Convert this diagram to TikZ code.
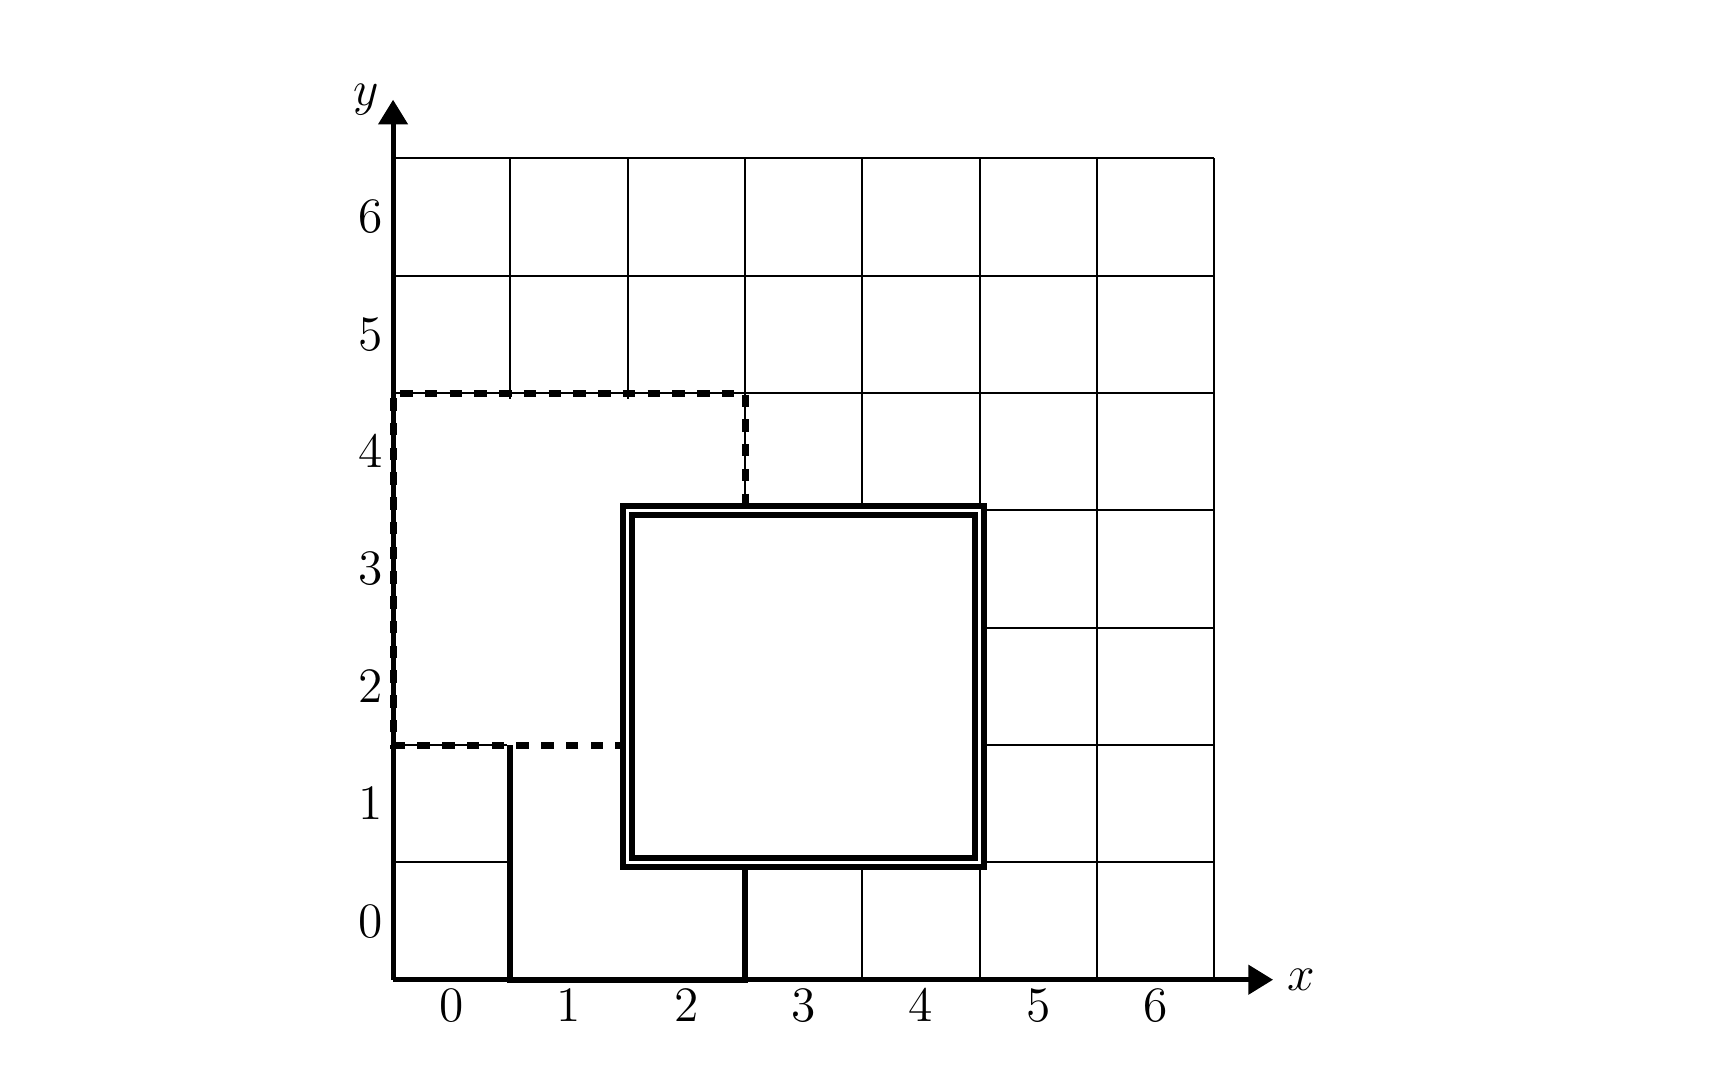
\documentclass[tikz,border=0pt]{standalone}
\usepackage{amsmath}
\usepackage{amssymb}
\usetikzlibrary{arrows.meta}

\begin{document}
\begin{tikzpicture}[font=\fontsize{12.4}{15}\selectfont,
  gridline/.style={line width=0.45pt},
  axisline/.style={line width=1.2pt,-{Triangle[length=6pt,width=7pt]}},
  pathline/.style={line width=1.5pt},
  dashline/.style={line width=1.7pt,dash pattern=on 3pt off 3pt},
  boxline/.style={double,line width=1.45pt,double distance=0.65pt,fill=white},
  numlab/.style={inner sep=2.2pt}]
\useasboundingbox (-3.85,-1.37) rectangle (10.86,7.85);
\coordinate (O) at (-0.5,-0.5);
\coordinate (X) at (7,-0.5);
\coordinate (Y) at (-0.5,7);
\draw[gridline,shift={(-0.5,-0.5)}] (0,0) grid (7,7);
% empty cells
\fill[white] (-0.5,1.55) rectangle (2.45,4.45);
\fill[white] (0.5,-0.5) rectangle (2.45,0.45);
\fill[white] (0.47,-0.5) rectangle (1.45,1.58);
\draw[axisline] (O)--(X);
\draw[axisline] (O)--(Y);
\node[right] (xname) at (X) {$x$};
\node[left] (yname) at (Y) {$y$};
\foreach \i in {0,...,6}{
  \node[below,numlab] (xlab\i) at (\i,-0.5) {$\i$};
  \node[left,numlab] (ylab\i) at (-0.5,\i) {$\i$};
}
\coordinate (P1) at (0.5,1.5);
\coordinate (P2) at (0.5,-0.5);
\coordinate (P3) at (2.5,-0.5);
\coordinate (P4) at (2.5,0.5);
\draw[pathline] (P1)--(P2)--(P3)--(P4);
\coordinate (D1) at (1.5,1.5);
\coordinate (D2) at (-0.5,1.5);
\coordinate (D3) at (-0.5,4.5);
\coordinate (D4) at (2.5,4.5);
\coordinate (D5) at (2.5,3.5);
\draw[dashline] (D1)--(D2)--(D3)--(D4)--(D5);
\draw[boxline] (1.5,0.5) rectangle (4.5,3.5);
\end{tikzpicture}
\end{document}
